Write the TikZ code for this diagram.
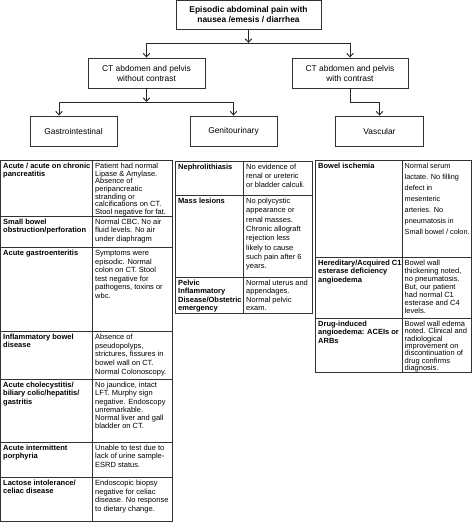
\documentclass[tikz,border=0pt]{standalone}
\usepackage{fontspec}
\setmainfont{Liberation Sans}
\usetikzlibrary{arrows.meta,positioning}
\tikzset{
  >={Straight Barb[length=3.5pt,width=6.5pt]},
}

\begin{document}
\begin{tikzpicture}[x=1pt,y=-1pt,
  box/.style={draw=black!80, line width=0.9pt, minimum width=#1, minimum height=30pt, align=center, inner sep=1pt, font=\fontsize{8.4}{10}\selectfont},
  arr/.style={->, line width=0.95pt, black!85},
  grid/.style={draw=black!80, line width=0.8pt},
  hd/.style={anchor=north west, inner sep=0pt, align=left, font=\fontsize{7.5}{#1}\selectfont\bfseries},
  hd/.default=8.2,
  tx/.style={anchor=north west, inner sep=0pt, align=left, font=\fontsize{7.5}{#1}\selectfont},
  tx/.default=8.2
]
  \useasboundingbox (0,0) rectangle (474,523);

  \node[box=145pt, minimum height=29pt, font=\fontsize{8.4}{10}\selectfont\bfseries] (top) at (248.5,15) {Episodic abdominal pain with\\nausea /emesis / diarrhea};
  \node[box=117pt] (ctno) at (146.5,73) {CT abdomen and pelvis\\without contrast};
  \node[box=116pt] (ctw) at (350,73) {CT abdomen and pelvis\\with contrast};
  \node[box=87pt] (gi) at (73.5,131) {Gastrointestinal};
  \node[box=87pt] (gu) at (233.5,131) {Genitourinary};
  \node[box=88pt] (vasc) at (379.5,131) {Vascular};

  \coordinate (j1) at (248.5,43);
  \coordinate (j2) at (146.5,102);
  \coordinate (j3) at (350,102);
  \draw[arr] (top) -- (j1);
  \draw[arr] (j1) -| (ctno);
  \draw[arr] (j1) -| (ctw);
  \draw[arr] (ctno) -- (j2);
  \draw[arr] (j2) -| ([xshift=-14.5pt]gi.north);
  \draw[arr] (j2) -| (gu);
  \draw[arr] (ctw) -- (j3) -| (vasc);

  % gastrointestinal table
  \draw[grid] (0.5,160) rectangle (172,521);
  \draw[grid] (92,160) -- (92,521);
  \foreach \y in {216,247,331,379,442,477}
    \draw[grid] (0.5,\y) -- (172,\y);
  \node[hd] (g1) at (3,163) {Acute / acute on chronic\\pancreatitis};
  \node[tx=7.6] (g1t) at (95,163) {Patient had normal\\Lipase \& Amylase.\\Absence of\\peripancreatic\\stranding or\\calcifications on CT.\\Stool negative for fat.};
  \node[hd] (g2) at (3,219) {Small bowel\\obstruction/perforation};
  \node[tx] (g2t) at (95,219) {Normal CBC. No air\\fluid levels. No air\\under diaphragm};
  \node[hd] (g3) at (3,250) {Acute gastroenteritis};
  \node[tx=8.6] (g3t) at (95,250) {Symptoms were\\episodic. Normal\\colon on CT. Stool\\test negative for\\pathogens, toxins or\\wbc.};
  \node[hd] (g4) at (3,334) {Inflammatory bowel\\disease};
  \node[tx=8.6] (g4t) at (95,334) {Absence of\\pseudopolyps,\\strictures, fissures in\\bowel wall on CT.\\Normal Colonoscopy.};
  \node[hd] (g5) at (3,382) {Acute cholecystitis/\\biliary colic/hepatitis/\\gastritis};
  \node[tx] (g5t) at (95,382) {No jaundice, intact\\LFT. Murphy sign\\negative. Endoscopy\\unremarkable.\\Normal liver and gall\\bladder on CT.};
  \node[hd] (g6) at (3,445) {Acute intermittent\\porphyria};
  \node[tx] (g6t) at (95,445) {Unable to test due to\\lack of urine sample-\\ESRD status.};
  \node[hd] (g7) at (3,480) {Lactose intolerance/\\celiac disease};
  \node[tx=8.6] (g7t) at (95,480) {Endoscopic biopsy\\negative for celiac\\disease. No response\\to dietary change.};

  % genitourinary table
  \draw[grid] (175,161) rectangle (312,313);
  \draw[grid] (243,161) -- (243,313);
  \foreach \y in {195,277}
    \draw[grid] (175,\y) -- (312,\y);
  \node[hd] (u1) at (178,164) {Nephrolithiasis};
  \node[tx=8.8] (u1t) at (246,164) {No evidence of\\renal or ureteric\\or bladder calculi.};
  \node[hd] (u2) at (178,198) {Mass lesions};
  \node[tx=9.3] (u2t) at (246,198) {No polycystic\\appearance or\\renal masses.\\Chronic allograft\\rejection less\\likely to cause\\such pain after 6\\years.};
  \node[hd] (u3) at (178,280) {Pelvic\\Inflammatory\\Disease/Obstetric\\emergency};
  \node[tx] (u3t) at (246,280) {Normal uterus and\\appendages.\\Normal pelvic\\exam.};

  % vascular table
  \draw[grid] (315,160) rectangle (471,372);
  \draw[grid] (402,160) -- (402,372);
  \foreach \y in {257,318}
    \draw[grid] (315,\y) -- (471,\y);
  \node[hd] (v1) at (318,163) {Bowel ischemia};
  \node[tx=11, font=\fontsize{7.3}{11}\selectfont] (v1t) at (404.5,163) {Normal serum\\lactate. No filling\\defect in\\mesenteric\\arteries. No\\pneumatosis in\\Small bowel / colon.};
  \node[tx=8] (v2t) at (404.5,260) {Bowel wall\\thickening noted,\\no pneumatosis.\\But, our patient\\had normal C1\\esterase and C4\\levels.};
  \node[hd] (v2) at (318,260) {Hereditary/Acquired C1\\esterase deficiency\\angioedema};
  \node[hd] (v3) at (318,321) {Drug-induced\\angioedema: ACEIs or\\ARBs};
  \node[tx=7.3] (v3t) at (404.5,321) {Bowel wall edema\\noted. Clinical and\\radiological\\improvement on\\discontinuation of\\drug confirms\\diagnosis.};
\end{tikzpicture}
\end{document}
